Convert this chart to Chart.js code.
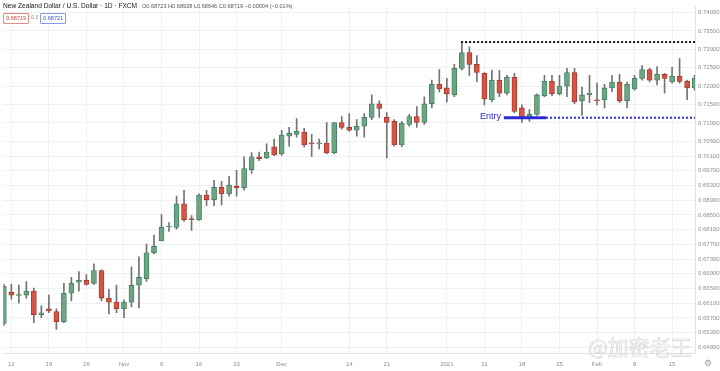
<!DOCTYPE html>
<html>
<head>
<meta charset="utf-8">
<script src="https://cdn.jsdelivr.net/npm/chart.js@4/dist/chart.umd.min.js"></script>
<style>
  html, body { margin: 0; padding: 0; background: #fff; }
  #wrap { position: relative; width: 720px; height: 371px; overflow: hidden; font-family: "Liberation Sans", Arial, sans-serif; }
  #chart { position: absolute; left: 0; top: 0; }
  .title { position: absolute; left: 3px; top: 2px; font-size: 6.6px; color: #131722; white-space: nowrap; }
  .title .ohlc { font-size: 5.6px; color: #555; margin-left: 3px; }
  .box { position: absolute; top: 13px; height: 9px; line-height: 9px; font-size: 5.6px; padding: 0 2px; border: 1px solid; border-radius: 1px; background: #fff; }
  .sell { left: 3px; color: #d9453a; border-color: #e58a83; }
  .buy { left: 40px; color: #3a55d9; border-color: #8a9be8; }
  .spread { position: absolute; left: 31px; top: 14px; font-size: 5px; color: #888; }
  .mark { position: absolute; left: 588px; top: 331px; font-size: 21px; font-family: "Noto Sans CJK SC", sans-serif; color: rgba(255,255,255,0.4); -webkit-text-stroke: 0.7px rgba(185,185,185,0.6); white-space: nowrap; }
  .gear { position: absolute; left: 704px; top: 358px; font-size: 9px; color: #999; }
</style>
</head>
<body>
<div id="wrap">
  <canvas id="chart" width="720" height="371"></canvas>
  <div class="title">New Zealand Dollar / U.S. Dollar · 1D · FXCM <span class="ohlc">O0.68723 H0.68938 L0.68646 C0.68719 −0.00004 (−0.01%)</span></div>
  <div class="box sell">0.68719</div>
  <div class="spread">0.3</div>
  <div class="box buy">0.68721</div>
  <div class="mark">@加密老王</div>
  <div class="gear">⚙</div>
</div>
<script>
// trading days, Oct 9 2020 .. Feb 18 2021
const dates = [
  '10-09',
  '10-12', '10-13', '10-14', '10-15', '10-16',
  '10-19', '10-20', '10-21', '10-22', '10-23',
  '10-26', '10-27', '10-28', '10-29', '10-30',
  '11-02', '11-03', '11-04', '11-05', '11-06',
  '11-09', '11-10', '11-11', '11-12', '11-13',
  '11-16', '11-17', '11-18', '11-19', '11-20',
  '11-23', '11-24', '11-25', '11-26', '11-27',
  '11-30', '12-01', '12-02', '12-03', '12-04',
  '12-07', '12-08', '12-09', '12-10', '12-11',
  '12-14', '12-15', '12-16', '12-17', '12-18',
  '12-21', '12-22', '12-23', '12-24',
  '12-28', '12-29', '12-30', '12-31',
  '01-04', '01-05', '01-06', '01-07', '01-08',
  '01-11', '01-12', '01-13', '01-14', '01-15',
  '01-18', '01-19', '01-20', '01-21', '01-22',
  '01-25', '01-26', '01-27', '01-28', '01-29',
  '02-01', '02-02', '02-03', '02-04', '02-05',
  '02-08', '02-09', '02-10', '02-11', '02-12',
  '02-15', '02-16', '02-17', '02-18'
];

const opens = [
  .6555, .6640, .6631, .6632, .6643, .6579, .6595, .6587, .6560, .6637,
  .6667, .6672, .6664, .6699, .6624, .6613, .6595, .6613, .6659, .6677,
  .6747, .6779, .6817, .6816, .6880, .6840, .6837, .6904, .6891, .6925,
  .6907, .6928, .6923, .6973, .7008, .7005, .7035, .7016, .7064, .7069,
  .7075, .7044, .7043, .7045, .7019, .7101, .7088, .7080, .7091, .7115,
  .7152, .7115, .7104, .7040, .7096, .7117, .7101, .7152, .7205, .7195,
  .7176, .7248, .7291, .7259, .7235, .7163, .7216, .7181, .7224, .7141,
  .7115, .7123, .7173, .7213, .7179, .7200, .7237, .7160, .7176, .7161,
  .7163, .7195, .7211, .7160, .7192, .7221, .7245, .7216, .7232, .7211,
  .7227, .7213, .7195
];
const highs = [
  .6661, .6661, .6659, .6669, .6651, .6603, .6632, .6595, .6664, .6680,
  .6696, .6688, .6717, .6701, .6648, .6659, .6619, .6709, .6736, .6771,
  .6795, .6851, .6829, .6901, .6917, .6848, .6907, .6917, .6944, .6941,
  .6955, .6971, .7008, .7019, .7021, .7043, .7056, .7080, .7088, .7112,
  .7085, .7069, .7056, .7101, .7101, .7117, .7125, .7109, .7125, .7176,
  .7160, .7128, .7109, .7104, .7123, .7144, .7171, .7216, .7245, .7221,
  .7259, .7317, .7307, .7283, .7237, .7243, .7243, .7229, .7235, .7149,
  .7136, .7179, .7229, .7229, .7229, .7248, .7248, .7197, .7229, .7208,
  .7205, .7229, .7232, .7211, .7229, .7256, .7248, .7253, .7235, .7251,
  .7275, .7216, .7229
];
const lows = [
  .6549, .6621, .6611, .6624, .6557, .6571, .6584, .6539, .6557, .6616,
  .6643, .6659, .6661, .6616, .6581, .6584, .6571, .6600, .6597, .6669,
  .6744, .6779, .6805, .6811, .6832, .6808, .6835, .6875, .6875, .6877,
  .6901, .6901, .6917, .6963, .6997, .7003, .7011, .7011, .7037, .7061,
  .7035, .7008, .7029, .7016, .7016, .7083, .7077, .7064, .7061, .7109,
  .7115, .7005, .7037, .7035, .7091, .7088, .7096, .7141, .7184, .7157,
  .7171, .7243, .7229, .7211, .7149, .7157, .7171, .7176, .7128, .7101,
  .7104, .7120, .7171, .7173, .7176, .7171, .7152, .7120, .7155, .7149,
  .7141, .7184, .7155, .7141, .7189, .7216, .7211, .7203, .7181, .7208,
  .7208, .7163, .7189
];
const closes = [
  .6656, .6632, .6632, .6643, .6579, .6584, .6589, .6560, .6637, .6664,
  .6672, .6661, .6699, .6624, .6613, .6595, .6613, .6659, .6680, .6747,
  .6765, .6816, .6819, .6880, .6837, .6837, .6904, .6891, .6925, .6907,
  .6931, .6923, .6976, .7008, .7003, .7021, .7013, .7067, .7072, .7077,
  .7040, .7043, .7044, .7019, .7101, .7088, .7080, .7091, .7115, .7152,
  .7139, .7101, .7040, .7099, .7117, .7101, .7152, .7205, .7192, .7179,
  .7248, .7291, .7259, .7237, .7165, .7216, .7181, .7224, .7131, .7117,
  .7123, .7176, .7213, .7179, .7200, .7237, .7157, .7176, .7181, .7160,
  .7195, .7211, .7160, .7205, .7221, .7245, .7216, .7232, .7221, .7227,
  .7213, .7195, .7221
];

const tickDates = ['10-12', '10-19', '10-26', '11-02', '11-09', '11-16', '11-23', '12-01', '12-14', '12-21', '01-04', '01-11', '01-18', '01-25', '02-01', '02-08', '02-15'];
const tickTexts = ['12', '19', '26', 'Nov', '9', '16', '23', 'Dec', '14', '21', '2021', '11', '18', '25', 'Feb', '8', '15'];

const priceTicks = [0.740, 0.735, 0.730, 0.725, 0.720, 0.715, 0.710, 0.705, 0.701, 0.697, 0.693, 0.689, 0.685, 0.681, 0.677, 0.673, 0.669, 0.665, 0.661, 0.657, 0.653, 0.649];

// drawn levels
const topLevel = 0.7320;
const topFrom = 60.9;
const entryLevel = 0.7114;
const entryFrom = 66.6;
const entryTo = 72.2;

const xMin = -0.06;
const xMax = 92.05;

const up = closes.map((c, i) => c >= opens[i]);

const entryLabel = {
  id: 'entryLabel',
  afterDatasetsDraw(chart) {
    const { ctx, scales } = chart;
    ctx.save();
    ctx.fillStyle = '#2b2bd6';
    ctx.font = '9px "Liberation Sans", Arial, sans-serif';
    ctx.textAlign = 'right';
    ctx.textBaseline = 'middle';
    ctx.fillText('Entry', scales.x.getPixelForValue(entryFrom) - 3, scales.y.getPixelForValue(entryLevel) - 1);
    ctx.restore();
  }
};

new Chart(document.getElementById('chart'), {
  data: {
    datasets: [
      {
        type: 'line',
        data: [{ x: topFrom, y: topLevel }, { x: xMax, y: topLevel }],
        borderColor: '#111',
        borderWidth: 2,
        borderDash: [2, 2],
        pointRadius: 0,
        order: 0,
      },
      {
        type: 'line',
        data: [{ x: entryTo, y: entryLevel }, { x: xMax, y: entryLevel }],
        borderColor: '#2b2bd6',
        borderWidth: 2,
        borderDash: [2, 2],
        pointRadius: 0,
        order: 0,
      },
      {
        type: 'line',
        data: [{ x: entryFrom, y: entryLevel }, { x: entryTo, y: entryLevel }],
        borderColor: '#2b2bd6',
        borderWidth: 3,
        pointRadius: 0,
        order: 0,
      },
      {
        type: 'bar',
        data: dates.map((d, i) => ({ x: i, y: [opens[i], closes[i]] })),
        backgroundColor: up.map(u => u ? '#6ba583' : '#d75442'),
        borderColor: up.map(u => u ? '#3d7a58' : '#9a3328'),
        borderWidth: 0.8,
        borderSkipped: false,
        barThickness: 5,
        minBarLength: 1,
        grouped: false,
        order: 1,
      },
      {
        type: 'bar',
        data: dates.map((d, i) => ({ x: i, y: [lows[i], highs[i]] })),
        backgroundColor: '#737375',
        barThickness: 1,
        grouped: false,
        order: 2,
      },
    ],
  },
  options: {
    responsive: false,
    animation: false,
    layout: { padding: 0 },
    plugins: {
      legend: { display: false },
      tooltip: { enabled: false },
    },
    scales: {
      x: {
        type: 'linear',
        offset: false,
        min: xMin,
        max: xMax,
        afterFit: s => { s.height = 18; },
        afterBuildTicks: s => { s.ticks = tickDates.map(d => ({ value: dates.indexOf(d) })); },
        ticks: {
          autoSkip: false,
          maxRotation: 0,
          padding: 8,
          color: '#8a8d96',
          font: { size: 6, family: '"Liberation Sans", Arial, sans-serif' },
          callback: v => tickTexts[tickDates.indexOf(dates[v])],
        },
        grid: { color: '#f0f1f4', drawTicks: false, offset: false },
        border: { color: '#e0e3eb' },
      },
      y: {
        position: 'right',
        min: 0.64747,
        max: 0.7416,
        afterFit: s => { s.width = 25; },
        afterBuildTicks: s => { s.ticks = priceTicks.map(v => ({ value: v })); },
        ticks: {
          padding: 3,
          color: '#8a8d96',
          font: { size: 6, family: '"Liberation Sans", Arial, sans-serif' },
          callback: v => v.toFixed(5),
        },
        grid: { color: '#f0f1f4', drawTicks: false },
        border: { color: '#e0e3eb' },
      },
    },
  },
  plugins: [entryLabel],
});
</script>
</body>
</html>
